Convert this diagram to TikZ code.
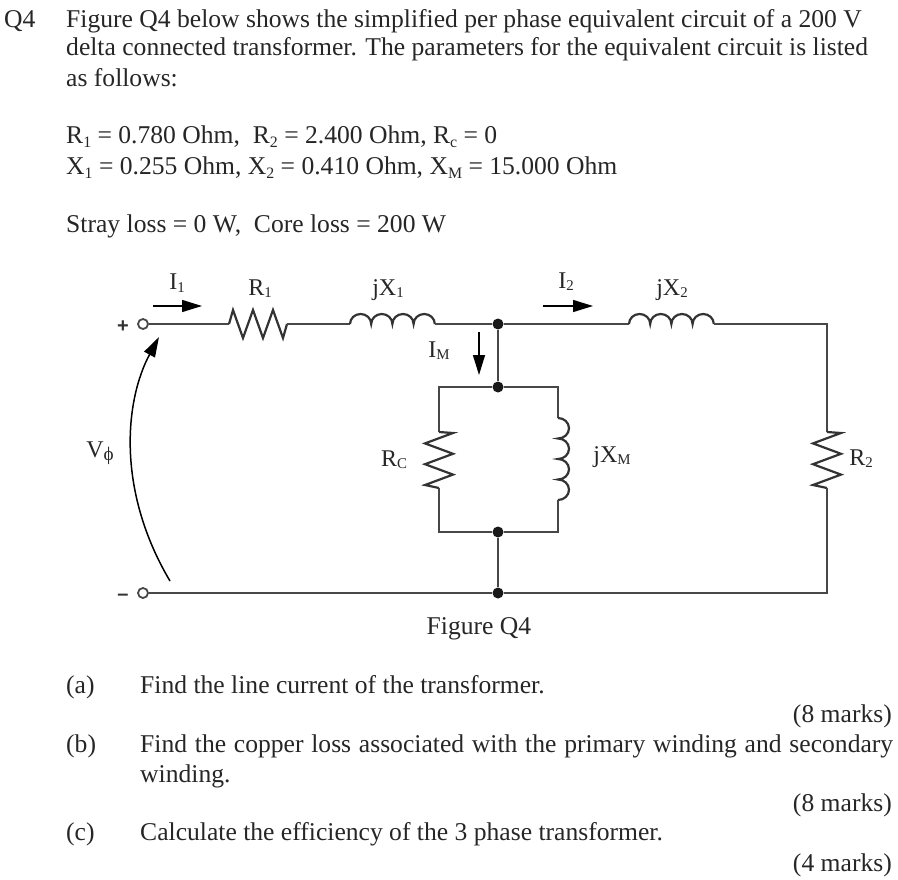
\documentclass[tikz,border=0pt]{standalone}
\usepackage{fontspec}
\setmainfont{Liberation Serif}
\newfontfamily\signfont{Liberation Sans}
\usetikzlibrary{arrows.meta}
\newcommand{\lowsub}[1]{\raisebox{-0.12em}{\scalebox{0.62}{#1}}}
\tikzset{
    txt/.style={anchor=base west,inner sep=0pt,text=black!85,font=\fontsize{25.6}{30}\selectfont},
    lbl/.style={anchor=base,inner sep=0pt,text=black!85,font=\fontsize{24}{28}\selectfont},
    sign/.style={anchor=base,inner sep=0pt,text=black!80,font=\signfont\bfseries\fontsize{20}{24}\selectfont},
    wire/.style={draw=black!72,line width=2pt},
    resistor/.style={draw=black!80,line width=2.2pt,line join=miter},
    inductor/.style={draw=black!80,line width=2.2pt},
    terminal/.style={circle,draw=black!72,line width=1.8pt,fill=white,minimum size=10pt,inner sep=0pt},
    junction/.style={circle,fill=black!90,minimum size=11pt,inner sep=0pt},
    flow/.style={line width=1.5pt,-{Triangle[length=20pt,width=12pt]}},
}
\begin{document}
\begin{tikzpicture}[x=1pt,y=-1pt]
    \useasboundingbox (0,0) rectangle (898,880);
    %% question text
    \node[txt] (qno) at (4,28) {Q4};
    \node[txt] (qa) at (66,28) {Figure Q4 below shows the simplified per phase equivalent circuit of a 200 V};
    \node[txt] (qb) at (66,56) {delta connected transformer. The parameters for the equivalent circuit is listed};
    \node[txt] (qc) at (66,87) {as follows:};
    \node[txt] (para) at (66,144) {R\lowsub{1} = 0.780 Ohm,\ \ R\lowsub{2} = 2.400 Ohm, R\lowsub{c} = 0};
    \node[txt] (parb) at (66,175) {X\lowsub{1} = 0.255 Ohm, X\lowsub{2} = 0.410 Ohm, X\lowsub{M} = 15.000 Ohm};
    \node[txt] (loss) at (66,233) {Stray loss = 0 W,\ \ Core loss = 200 W};
    %% terminals and junctions
    \node[terminal] (plus) at (143,324) {};
    \node[terminal] (minus) at (143,593) {};
    \node[junction] (top) at (498,324) {};
    \node[junction] (upper) at (498,387) {};
    \node[junction] (lower) at (498,532) {};
    \node[junction] (bottom) at (498,593) {};
    \node[sign] (plussign) at (123,332) {+};
    \node[sign] (minussign) at (123,600) {–};
    %% series branch
    \coordinate (ra) at (229,324);
    \coordinate (rb) at (287,324);
    \coordinate (xa) at (350,324);
    \coordinate (xb) at (435,324);
    \coordinate (ya) at (629,324);
    \coordinate (yb) at (714,324);
    \coordinate (tr) at (827,324);
    \coordinate (br) at (827,593);
    \coordinate (sa) at (827,432);
    \coordinate (sb) at (827,488);
    \draw[wire] (plus) -- (ra);
    \draw[resistor] (ra) -- ++(4,-14) \foreach \n in {1,2} {-- ++(10,28) -- ++(10,-28)} -- ++(10,28) -- (rb);
    \draw[wire] (rb) -- (xa);
    \draw[inductor] (xa) \foreach \n in {1,...,4} {arc[start angle=180,end angle=0,x radius=10.6pt,y radius=10pt]};
    \draw[wire] (xb) -- (top) -- (ya);
    \draw[inductor] (ya) \foreach \n in {1,...,4} {arc[start angle=180,end angle=0,x radius=10.6pt,y radius=10pt]};
    \draw[wire] (yb) -- (tr) -- (sa);
    \draw[resistor] (sa) -- ++(14,1) \foreach \n in {1,2} {-- ++(-28,10.4) -- ++(28,10.4)} -- ++(-28,10.4) -- (sb);
    \draw[wire] (sb) -- (br) -- (bottom) -- (minus);
    %% shunt branch
    \coordinate (lt) at (439,387);
    \coordinate (lb) at (439,532);
    \coordinate (ca) at (439,432);
    \coordinate (cb) at (439,488);
    \coordinate (mt) at (558,387);
    \coordinate (mf) at (558,532);
    \coordinate (ma) at (558,418);
    \coordinate (mc) at (558,500);
    \draw[wire] (top) -- (upper);
    \draw[wire] (lower) -- (bottom);
    \draw[wire] (upper) -- (lt) -- (ca);
    \draw[resistor] (ca) -- ++(14,1) \foreach \n in {1,2} {-- ++(-28,10.4) -- ++(28,10.4)} -- ++(-28,10.4) -- (cb);
    \draw[wire] (cb) -- (lb) -- (lower);
    \draw[wire] (upper) -- (mt) -- (ma);
    \draw[inductor] (ma) \foreach \n in {1,...,4} {arc[start angle=90,end angle=-90,x radius=11pt,y radius=10.25pt]};
    \draw[wire] (mc) -- (mf) -- (lower);
    %% current and voltage arrows
    \coordinate (ia) at (153,306);
    \coordinate (ib) at (202,306);
    \coordinate (ja) at (543,306);
    \coordinate (jb) at (593,306);
    \coordinate (ka) at (479,332);
    \coordinate (kb) at (479,375);
    \coordinate (va) at (170,581);
    \coordinate (vb) at (159,337);
    \draw[flow] (ia) -- (ib);
    \draw[flow] (ja) -- (jb);
    \draw[flow] (ka) -- (kb);
    \draw[flow] (va) .. controls (116,490) and (125,400) .. (vb);
    %% circuit labels
    \node[lbl] (ione) at (177,290) {I\lowsub{1}};
    \node[lbl] (rone) at (260,295) {R\lowsub{1}};
    \node[lbl] (xone) at (388,295) {jX\lowsub{1}};
    \node[lbl] (itwo) at (566,288) {I\lowsub{2}};
    \node[lbl] (xtwo) at (672,295) {jX\lowsub{2}};
    \node[lbl] (im) at (439,357) {I\lowsub{M}};
    \node[lbl] (vphi) at (100,457) {V\raisebox{-0.14em}{\scalebox{0.8}{ϕ}}};
    \node[lbl] (rc) at (394,466) {R\lowsub{C}};
    \node[lbl] (xm) at (612,462) {jX\lowsub{M}};
    \node[lbl] (rtwo) at (861,465) {R\lowsub{2}};
    \node[txt,anchor=base] (cap) at (479,634) {Figure Q4};
    %% parts of the question
    \node[txt] (pa) at (66,693) {(a)};
    \node[txt] (ta) at (140,693) {Find the line current of the transformer.};
    \node[txt,anchor=base east] (marka) at (892,722) {(8 marks)};
    \node[txt] (pb) at (66,752) {(b)};
    \node[txt] (tb) at (140,752) {\makebox[753pt][s]{Find the copper loss associated with the primary winding and secondary}};
    \node[txt] (tc) at (140,782) {winding.};
    \node[txt,anchor=base east] (markb) at (892,811) {(8 marks)};
    \node[txt] (pc) at (66,840) {(c)};
    \node[txt] (td) at (140,840) {Calculate the efficiency of the 3 phase transformer.};
    \node[txt,anchor=base east] (markc) at (892,871) {(4 marks)};
\end{tikzpicture}
\end{document}
